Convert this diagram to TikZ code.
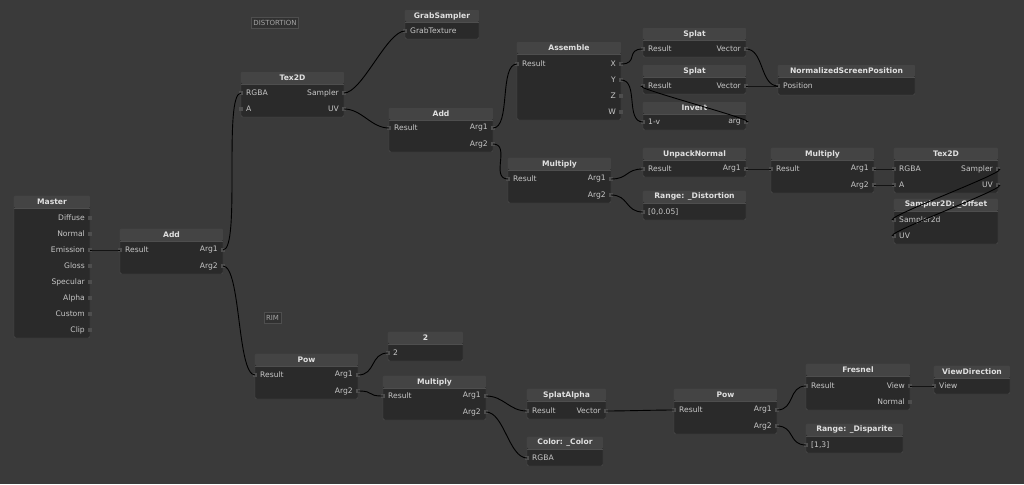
\documentclass[tikz,border=0pt]{standalone}
\usepackage{fontspec}
\setmainfont{DejaVu Sans}
\definecolor{bg}{HTML}{3A3A3A}
\definecolor{body}{HTML}{2A2A2A}
\definecolor{head}{HTML}{444444}
\definecolor{edge}{HTML}{4E4E4E}
\definecolor{txt}{HTML}{C8C8C8}
\definecolor{ttl}{HTML}{E0E0E0}
\tikzset{
 gbody/.style={fill=body,draw=edge,rounded corners=1.5pt,inner sep=0pt,outer sep=0pt},
 ghead/.style={fill=head},
 gtitle/.style={text=ttl,font=\fontsize{7.6}{8}\selectfont\bfseries,inner sep=0pt},
 plabel/.style={text=txt,font=\fontsize{7.6}{8}\selectfont,inner sep=0pt},
 port/.style={fill=edge,draw=none,minimum size=4pt,inner sep=0pt,outer sep=0pt},
 wire/.style={draw=black,line width=0.9pt},
 note/.style={fill=bg!85!black,draw=edge,text=txt!75!bg,font=\fontsize{7}{8}\selectfont,inner xsep=2pt,inner ysep=3pt}
}
\newcommand\gnode[6]{%
 \node[gbody,minimum width={#4-#2},minimum height={#5-#3},anchor=north west] (#1) at (#2,#3) {};
 \fill[ghead,rounded corners=1.5pt] (#2,#3) rectangle (#4,#3+12);
 \draw[edge] (#2,#3+12) -- (#4,#3+12);
 \node[gtitle] (#1-t) at ({(#2+#4)/2},#3+6) {#6};}
\newcommand\pin[4]{\node[port] (#1) at (#2,#3) {}; \node[plabel,anchor=west] at (#2+5,#3) {#4};}
\newcommand\pout[4]{\node[port] (#1) at (#2,#3) {}; \node[plabel,anchor=east] at (#2-5,#3) {#4};}
\newcommand\wire[2]{\draw[wire] (#1.center) .. controls +(18,0) and +(-18,0) .. (#2.center);}
\begin{document}
\begin{tikzpicture}[x=1pt,y=-1pt]
\useasboundingbox (0,0) rectangle (1024,484);
\fill[bg] (0,0) rectangle (1024,484);
\node[note] (ndist) at (275,23) {DISTORTION};
\node[note] (nrim) at (272.5,317.5) {RIM};
% Master
\gnode{master}{14}{196}{90}{338}{Master}
\pout{mDif}{90}{218}{Diffuse}
\pout{mNor}{90}{234}{Normal}
\pout{mEmi}{90}{250}{Emission}
\pout{mGlo}{90}{266}{Gloss}
\pout{mSpe}{90}{282}{Specular}
\pout{mAlp}{90}{298}{Alpha}
\pout{mCus}{90}{314}{Custom}
\pout{mCli}{90}{330}{Clip}
% Add main
\gnode{add}{120}{229}{223}{274}{Add}
\pin{addR}{120}{250}{Result}
\pout{addA1}{223}{250}{Arg1}
\pout{addA2}{223}{266}{Arg2}
% Tex2D
\gnode{tex}{241}{72}{344}{117}{Tex2D}
\pin{texRGBA}{241}{93}{RGBA}
\pin{texA}{241}{109}{A}
\pout{texS}{344}{93}{Sampler}
\pout{texUV}{344}{109}{UV}
% GrabSampler
\gnode{grab}{405}{10}{479}{39}{GrabSampler}
\pin{grabT}{405}{31}{GrabTexture}
% Add2
\gnode{addb}{389}{108}{493}{152}{Add}
\pin{addbR}{389}{128}{Result}
\pout{addbA1}{493}{128}{Arg1}
\pout{addbA2}{493}{144}{Arg2}
% Assemble
\gnode{asm}{517}{42}{621}{120}{Assemble}
\pin{asmR}{517}{64}{Result}
\pout{asmX}{621}{64}{X}
\pout{asmY}{621}{80}{Y}
\pout{asmZ}{621}{96}{Z}
\pout{asmW}{621}{112}{W}
% Splats
\gnode{spa}{643}{28}{746}{57}{Splat}
\pin{spaR}{643}{49}{Result}
\pout{spaV}{746}{49}{Vector}
\gnode{spb}{643}{65}{746}{94}{Splat}
\pin{spbR}{643}{86}{Result}
\pout{spbV}{746}{86}{Vector}
\gnode{inv}{643}{102}{746}{130}{Invert}
\pin{invV}{643}{122}{1-v}
\pout{invA}{746}{122}{arg}
\gnode{nsp}{778}{65}{915}{95}{NormalizedScreenPosition}
\pin{nspP}{778}{86}{Position}
% Multiply dist
\gnode{mul}{508}{158}{611}{203}{Multiply}
\pin{mulR}{508}{179}{Result}
\pout{mulA1}{611}{179}{Arg1}
\pout{mulA2}{611}{195}{Arg2}
\gnode{unp}{643}{148}{746}{177}{UnpackNormal}
\pin{unpR}{643}{169}{Result}
\pout{unpA}{746}{169}{Arg1}
\gnode{rdist}{643}{191}{746}{220}{Range: \_Distortion}
\pin{rdistV}{643}{212}{[0,0.05]}
\gnode{mulc}{771}{148}{874}{193}{Multiply}
\pin{mulcR}{771}{169}{Result}
\pout{mulcA1}{874}{169}{Arg1}
\pout{mulcA2}{874}{185}{Arg2}
\gnode{texb}{894}{148}{998}{193}{Tex2D}
\pin{texbRGBA}{894}{169}{RGBA}
\pin{texbA}{894}{185}{A}
\pout{texbS}{998}{169}{Sampler}
\pout{texbUV}{998}{185}{UV}
\gnode{smp}{894}{199}{998}{244}{Sampler2D: \_Offset}
\pin{smpS}{894}{220}{Sampler2d}
\pin{smpUV}{894}{236}{UV}
% RIM part
\gnode{pow}{255}{354}{358}{399}{Pow}
\pin{powR}{255}{375}{Result}
\pout{powA1}{358}{375}{Arg1}
\pout{powA2}{358}{391}{Arg2}
\gnode{two}{388}{332}{463}{361}{2}
\pin{twoV}{388}{353}{2}
\gnode{mulr}{383}{376}{486}{420}{Multiply}
\pin{mulrR}{383}{396}{Result}
\pout{mulrA1}{486}{396}{Arg1}
\pout{mulrA2}{486}{412}{Arg2}
\gnode{sa}{527}{389}{606}{419}{SplatAlpha}
\pin{saR}{527}{411}{Result}
\pout{saV}{606}{411}{Vector}
\gnode{col}{527}{437}{603}{466}{Color: \_Color}
\pin{colV}{527}{458}{RGBA}
\gnode{powb}{674}{389}{777}{434}{Pow}
\pin{powbR}{674}{410}{Result}
\pout{powbA1}{777}{410}{Arg1}
\pout{powbA2}{777}{426}{Arg2}
\gnode{fre}{806}{364}{910}{410}{Fresnel}
\pin{freR}{806}{386}{Result}
\pout{freV}{910}{386}{View}
\pout{freN}{910}{402}{Normal}
\gnode{vd}{934}{366}{1010}{394}{ViewDirection}
\pin{vdV}{934}{386}{View}
\gnode{rdis}{806}{424}{903}{453}{Range: \_Disparite}
\pin{rdisV}{806}{445}{[1,3]}
% wires
\wire{mEmi}{addR}
\wire{addA1}{texRGBA}
\wire{addA2}{powR}
\wire{texS}{grabT}
\wire{texUV}{addbR}
\wire{addbA1}{asmR}
\wire{addbA2}{mulR}
\wire{asmX}{spaR}
\wire{asmY}{invV}
\wire{invA}{spbR}
\wire{spaV}{nspP}
\wire{spbV}{nspP}
\wire{mulA1}{unpR}
\wire{mulA2}{rdistV}
\wire{unpA}{mulcR}
\wire{mulcA1}{texbRGBA}
\wire{mulcA2}{texbA}
\wire{texbS}{smpS}
\wire{texbUV}{smpUV}
\wire{powA1}{twoV}
\wire{powA2}{mulrR}
\wire{mulrA1}{saR}
\wire{mulrA2}{colV}
\wire{saV}{powbR}
\wire{powbA1}{freR}
\wire{powbA2}{rdisV}
\wire{freV}{vdV}
\end{tikzpicture}
\end{document}
